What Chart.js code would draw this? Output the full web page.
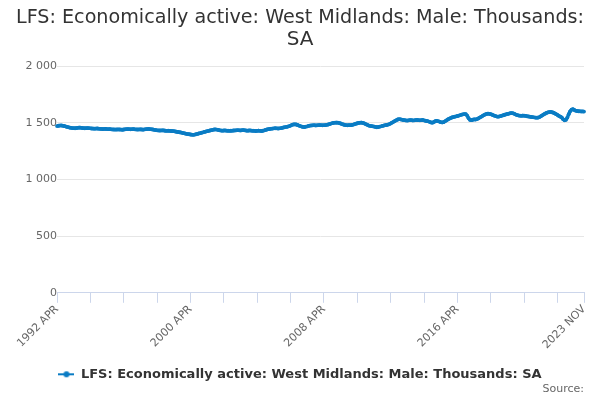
<!DOCTYPE html>
<html>
<head>
<meta charset="utf-8">
<script src="https://cdn.jsdelivr.net/npm/chart.js@4/dist/chart.umd.min.js"></script>
<style>
  html, body { margin: 0; padding: 0; background: #fff; }
  #wrap { width: 600px; height: 400px; }
</style>
</head>
<body>
<div id="wrap"><canvas id="chart"></canvas></div>
<script>
const months = ['JAN', 'FEB', 'MAR', 'APR', 'MAY', 'JUN', 'JUL', 'AUG', 'SEP', 'OCT', 'NOV', 'DEC'];

// monthly values (thousands), 1992 APR .. 2023 NOV, one row per year
const y1992 = [1470, 1473, 1475, 1476, 1474, 1471, 1468, 1464, 1461];
const y1993 = [1457, 1455, 1453, 1452, 1451, 1453, 1455, 1457, 1456, 1454, 1452, 1451];
const y1994 = [1452, 1453, 1452, 1450, 1449, 1448, 1447, 1448, 1449, 1447, 1446, 1445];
const y1995 = [1444, 1445, 1446, 1444, 1443, 1444, 1442, 1441, 1440, 1439, 1440, 1441];
const y1996 = [1440, 1439, 1438, 1440, 1442, 1443, 1444, 1443, 1442, 1443, 1444, 1442];
const y1997 = [1441, 1440, 1441, 1442, 1440, 1439, 1441, 1443, 1444, 1445, 1443, 1442];
const y1998 = [1440, 1437, 1435, 1433, 1432, 1431, 1432, 1433, 1431, 1429, 1428, 1429];
const y1999 = [1428, 1427, 1426, 1425, 1423, 1420, 1418, 1416, 1414, 1411, 1408, 1405];
const y2000 = [1402, 1400, 1398, 1396, 1394, 1393, 1395, 1398, 1401, 1405, 1408, 1412];
const y2001 = [1415, 1419, 1422, 1425, 1428, 1431, 1434, 1437, 1440, 1441, 1439, 1436];
const y2002 = [1433, 1431, 1430, 1431, 1432, 1430, 1429, 1428, 1429, 1430, 1431, 1432];
const y2003 = [1433, 1434, 1433, 1432, 1434, 1435, 1433, 1431, 1430, 1431, 1432, 1430];
const y2004 = [1429, 1428, 1427, 1428, 1430, 1428, 1427, 1429, 1432, 1436, 1440, 1443];
const y2005 = [1445, 1447, 1448, 1450, 1451, 1450, 1449, 1450, 1452, 1455, 1458, 1461];
const y2006 = [1463, 1466, 1470, 1475, 1480, 1485, 1486, 1484, 1480, 1475, 1470, 1466];
const y2007 = [1463, 1462, 1465, 1468, 1472, 1475, 1476, 1477, 1478, 1476, 1477, 1478];
const y2008 = [1479, 1478, 1477, 1478, 1479, 1481, 1484, 1488, 1492, 1496, 1499, 1500];
const y2009 = [1501, 1500, 1497, 1493, 1488, 1484, 1480, 1478, 1477, 1479, 1478, 1480];
const y2010 = [1483, 1487, 1491, 1495, 1498, 1500, 1501, 1498, 1494, 1488, 1482, 1476];
const y2011 = [1472, 1470, 1468, 1466, 1463, 1460, 1462, 1465, 1468, 1472, 1475, 1478];
const y2012 = [1480, 1483, 1488, 1494, 1501, 1508, 1515, 1522, 1528, 1531, 1530, 1527];
const y2013 = [1524, 1522, 1520, 1519, 1521, 1523, 1522, 1520, 1521, 1523, 1524, 1522];
const y2014 = [1521, 1522, 1524, 1520, 1517, 1515, 1512, 1508, 1502, 1500, 1506, 1513];
const y2015 = [1516, 1514, 1510, 1505, 1502, 1505, 1512, 1520, 1528, 1535, 1541, 1546];
const y2016 = [1550, 1553, 1556, 1559, 1563, 1567, 1571, 1574, 1576, 1575, 1562, 1540];
const y2017 = [1525, 1522, 1526, 1530, 1528, 1532, 1538, 1545, 1552, 1560, 1567, 1573];
const y2018 = [1577, 1580, 1578, 1575, 1570, 1565, 1560, 1556, 1553, 1555, 1558, 1562];
const y2019 = [1566, 1570, 1574, 1577, 1580, 1584, 1585, 1583, 1578, 1572, 1567, 1564];
const y2020 = [1562, 1561, 1563, 1562, 1560, 1557, 1555, 1553, 1551, 1549, 1547, 1545];
const y2021 = [1544, 1545, 1550, 1557, 1565, 1573, 1580, 1586, 1591, 1594, 1595, 1592];
const y2022 = [1588, 1582, 1575, 1568, 1560, 1553, 1546, 1530, 1522, 1526, 1545, 1575];
const y2023 = [1600, 1615, 1620, 1612, 1606, 1603, 1601, 1600, 1599, 1599, 1598];

const values = [].concat(y1992, y1993, y1994, y1995, y1996, y1997, y1998, y1999,
  y2000, y2001, y2002, y2003, y2004, y2005, y2006, y2007, y2008, y2009, y2010,
  y2011, y2012, y2013, y2014, y2015, y2016, y2017, y2018, y2019, y2020, y2021,
  y2022, y2023);

// category labels "YYYY MON", starting at 1992 APR
const labels = values.map((v, i) => {
  const m = 3 + i;
  return (1992 + Math.floor(m / 12)) + ' ' + months[m % 12];
});

const yTicks = [0, 500, 1000, 1500, 2000];
const tickEvery = 24;   // minor tick marks every two years
const labelEvery = 96;  // labels every eight years
const lastIndex = values.length - 1;

const seriesName = 'LFS: Economically active: West Midlands: Male: Thousands: SA';
const lineColor = '#0a7cc4';
const font = '"DejaVu Sans", sans-serif';

// legend symbol: short line with a dot
const sym = document.createElement('canvas');
sym.width = 16; sym.height = 8;
const sctx = sym.getContext('2d');
sctx.strokeStyle = lineColor;
sctx.lineWidth = 2;
sctx.beginPath(); sctx.moveTo(0, 4); sctx.lineTo(16, 4); sctx.stroke();
sctx.fillStyle = lineColor;
sctx.beginPath(); sctx.arc(8, 4, 3, 0, Math.PI * 2); sctx.fill();

function spaced(n) {
  return String(n).replace(/\B(?=(\d{3})+(?!\d))/g, ' ');
}

new Chart(document.getElementById('chart'), {
  type: 'line',
  data: {
    labels: labels,
    datasets: [{
      label: seriesName,
      data: values,
      borderColor: lineColor,
      backgroundColor: lineColor,
      borderWidth: 3.5,
      pointRadius: 1.9,
      pointBorderWidth: 0,
      tension: 0
    }]
  },
  options: {
    responsive: true,
    maintainAspectRatio: false,
    animation: false,
    layout: { padding: { left: 16, right: 16, top: 0, bottom: 0 } },
    plugins: {
      title: {
        display: true,
        text: ['LFS: Economically active: West Midlands: Male: Thousands:', 'SA'],
        color: '#333333',
        font: { family: font, size: 20, weight: 'normal', lineHeight: 1.1 },
        padding: { top: 7, bottom: 15 }
      },
      subtitle: {
        display: true,
        position: 'bottom',
        align: 'end',
        text: 'Source:',
        color: '#666666',
        font: { family: font, size: 11, weight: 'normal' },
        padding: { top: -8, bottom: 4 }
      },
      legend: {
        position: 'bottom',
        labels: {
          usePointStyle: true,
          pointStyle: sym,
          pointStyleWidth: 16,
          color: '#333333',
          font: { family: font, size: 13, weight: 'bold' },
          padding: 2
        }
      },
      tooltip: { enabled: false }
    },
    scales: {
      x: {
        grid: {
          drawOnChartArea: false,
          drawTicks: true,
          tickLength: 10,
          color: '#ccd6eb'
        },
        border: { color: '#ccd6eb' },
        afterBuildTicks: (scale) => {
          const t = [];
          for (let i = 0; i <= lastIndex; i += tickEvery) t.push({ value: i });
          if (lastIndex % tickEvery !== 0) t.push({ value: lastIndex });
          scale.ticks = t;
        },
        afterFit: (scale) => { scale.height = 73; },
        ticks: {
          autoSkip: false,
          minRotation: 45,
          maxRotation: 45,
          padding: 0,
          color: '#666666',
          font: { family: font, size: 11 },
          callback: function (value) {
            if (value % labelEvery === 0 || value === lastIndex) return this.getLabelForValue(value);
            return '';
          }
        }
      },
      y: {
        min: 0,
        max: 2000,
        afterBuildTicks: (scale) => { scale.ticks = yTicks.map(v => ({ value: v })); },
        afterFit: (scale) => { scale.width = 41; },
        grid: { color: '#e6e6e6', drawTicks: false },
        border: { display: false },
        ticks: {
          padding: 0,
          color: '#666666',
          font: { family: font, size: 11 },
          callback: (v) => spaced(v)
        }
      }
    }
  }
});
</script>
</body>
</html>
